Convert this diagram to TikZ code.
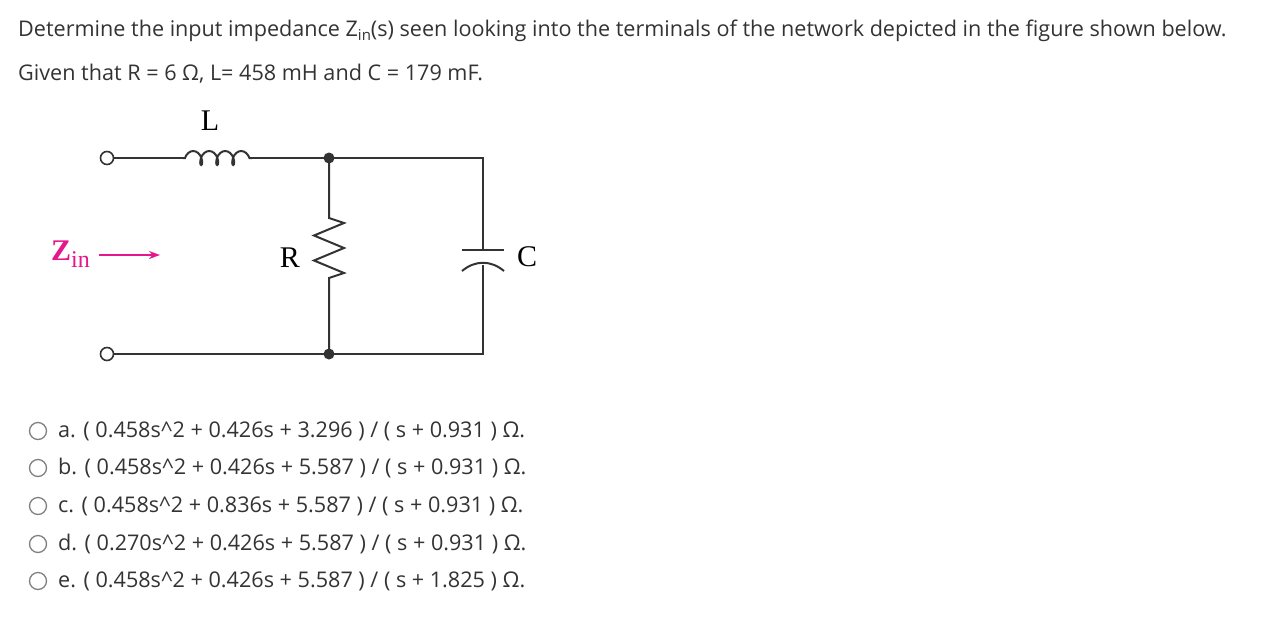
\documentclass[tikz,border=0pt]{standalone}
\usepackage{fontspec}
\setmainfont{Open Sans}
\newfontfamily\ser{Liberation Serif}
\usetikzlibrary{decorations.pathmorphing,arrows.meta,calc}
\definecolor{txt}{HTML}{333333}
\definecolor{wire}{HTML}{333333}
\definecolor{mag}{HTML}{E6168C}
\begin{document}
\begin{tikzpicture}[x=1pt,y=-1pt,
  q/.style={anchor=west,inner sep=0pt,text=txt,font=\fontsize{21.6}{24}\selectfont},
  w/.style={draw=wire,line width=2pt},
  term/.style={circle,draw=wire,line width=1.6pt,fill=white,minimum size=13pt,inner sep=0pt},
  dot/.style={circle,fill=wire,minimum size=11pt,inner sep=0pt},
  lab/.style={font=\ser\fontsize{30}{32}\selectfont,inner sep=0pt},
  radio/.style={circle,draw=gray,line width=1.3pt,minimum size=17pt,inner sep=0pt}]
\useasboundingbox (0,0) rectangle (1280,622);
\node[q] (t1) at (18,31) {Determine the input impedance Z\raisebox{-0.35ex}{\fontsize{15}{16}\selectfont in}(s) seen looking into the terminals of the network depicted in the figure shown below.};
\node[q] (t2) at (18,74) {Given that R = 6 Ω, L= 458 mH and C = 179 mF.};
% circuit
\coordinate (a) at (107,158);
\coordinate (b) at (107,354);
\coordinate (l1) at (183,158);
\coordinate (l2) at (252,158);
\coordinate (j1) at (329,158);
\coordinate (j2) at (329,354);
\coordinate (tr) at (483,158);
\coordinate (br) at (483,354);
\coordinate (r1) at (329,218);
\coordinate (r2) at (329,293);
\coordinate (c1) at (483,250);
\coordinate (c2) at (483,265);
\draw[w] (a) -- (l1);
\draw[w,decorate,decoration={coil,aspect=0.6,segment length=16pt,amplitude=7pt,pre length=2pt,post length=2pt}] (l1) -- (l2);
\draw[w] (l2) -- (j1) -- (tr) -- (c1);
\draw[w] (j1) -- (r1) -- ++(15,5) -- ++(-30,12.5) -- ++(30,12.5) -- ++(-30,12.5) -- ++(30,12.5) -- ++(-15,5) -- (r2) -- (j2);
\draw[w] (b) -- (j2) -- (br) -- (c2);
\draw[w] ($(c1)+(-21,0)$) -- ++(42,0);
\draw[w] (462,271) .. controls (475,260) and (491,260) .. (504,271);
\node[term] (ta) at (a) {};
\node[term] (tb) at (b) {};
\node[dot] (d1) at (j1) {};
\node[dot] (d2) at (j2) {};
\node[lab] (L) at (210,121) {L};
\node[lab] (R) at (290,258) {R};
\node[lab] (C) at (527,257) {C};
\node[lab,text=mag,anchor=east] (Z) at (90,254) {\textbf{Z}\raisebox{-0.5ex}{\fontsize{24}{26}\selectfont in}};
\coordinate (za) at (99,255);
\coordinate (zb) at (160,255);
\draw[mag,line width=1.8pt,-{Stealth[length=11pt,width=8pt]}] (za) -- (zb);
% options
\foreach \y/\t [count=\i] in {431/{a. ( 0.458s\textasciicircum2 + 0.426s + 3.296 ) / ( s + 0.931 ) Ω.},
 468/{b. ( 0.458s\textasciicircum2 + 0.426s + 5.587 ) / ( s + 0.931 ) Ω.},
 506/{c. ( 0.458s\textasciicircum2 + 0.836s + 5.587 ) / ( s + 0.931 ) Ω.},
 544/{d. ( 0.270s\textasciicircum2 + 0.426s + 5.587 ) / ( s + 0.931 ) Ω.},
 581/{e. ( 0.458s\textasciicircum2 + 0.426s + 5.587 ) / ( s + 1.825 ) Ω.}}{
  \node[radio] (r\i) at (38,\y) {};
  \node[q] (o\i) at (58,\y) {\t};
}
\end{tikzpicture}
\end{document}
